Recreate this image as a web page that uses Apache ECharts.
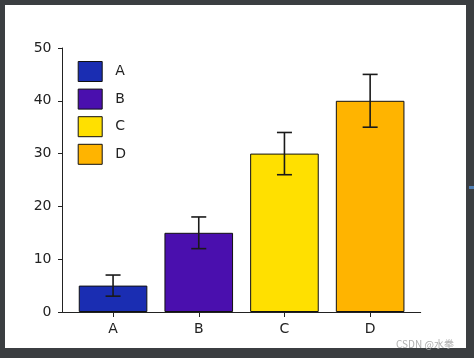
<!DOCTYPE html>
<html>
<head>
<meta charset="utf-8">
<script src="https://cdn.jsdelivr.net/npm/echarts@6/dist/echarts.min.js"></script>
<style>
html,body{margin:0;padding:0;background:#3b3e41;}
#panel{position:absolute;left:5px;top:5px;width:461px;height:343px;background:#ffffff;}
#chart{position:absolute;left:0;top:0;width:474px;height:358px;}
</style>
</head>
<body>
<div id="panel"></div>
<div id="chart"></div>
<script>
const categories = ['A', 'B', 'C', 'D'];
const values = [5, 15, 30, 40];
const errors = [2, 3, 4, 5];
const colors = ['#1a2db2', '#4a0fae', '#ffe000', '#ffb400'];
const yTicks = [0, 10, 20, 30, 40, 50];

const chart = echarts.init(document.getElementById('chart'), null, {renderer: 'canvas'});
const font = 'DejaVu Sans';

const barSeries = categories.map((name, i) => ({
  name: name,
  type: 'bar',
  stack: 'all',
  barWidth: 68.6,
  data: [[i, values[i]]],
  itemStyle: {color: colors[i], borderColor: '#111', borderWidth: 1},
  emphasis: {disabled: true},
  animation: false
}));

const errData = categories.map((c, i) => [i, values[i] - errors[i], values[i] + errors[i]]);

const errSeries = {
  type: 'custom',
  name: 'err',
  z: 10,
  data: errData,
  animation: false,
  renderItem: function (params, api) {
    const x = api.value(0);
    const lo = api.coord([x, api.value(1)]);
    const hi = api.coord([x, api.value(2)]);
    const half = 7.5;
    const st = {stroke: '#1a1a1a', lineWidth: 1.6};
    return {
      type: 'group',
      children: [
        {type: 'line', shape: {x1: lo[0], y1: lo[1], x2: hi[0], y2: hi[1]}, style: st},
        {type: 'line', shape: {x1: lo[0] - half, y1: lo[1], x2: lo[0] + half, y2: lo[1]}, style: st},
        {type: 'line', shape: {x1: hi[0] - half, y1: hi[1], x2: hi[0] + half, y2: hi[1]}, style: st}
      ]
    };
  }
};

chart.setOption({
  backgroundColor: 'transparent',
  animation: false,
  grid: {left: 62.5, right: 53.3, top: 48, bottom: 46, containLabel: false},
  legend: {
    data: categories,
    orient: 'vertical',
    left: 77.7,
    top: 61,
    padding: 0,
    itemWidth: 24,
    itemHeight: 20,
    itemGap: 6.6,
    icon: 'rect',
    itemStyle: {borderColor: '#111', borderWidth: 1},
    textStyle: {fontFamily: font, fontSize: 14, lineHeight: 16, color: '#222', padding: [0, 0, 0, 8]},
    selectedMode: false
  },
  xAxis: {
    type: 'value',
    min: -0.59,
    max: 3.59,
    splitLine: {show: false},
    axisLine: {show: true, onZero: false, lineStyle: {color: '#222', width: 1}},
    axisTick: {show: true, length: 5, customValues: [0, 1, 2, 3], lineStyle: {color: '#222'}},
    axisLabel: {
      customValues: [0, 1, 2, 3],
      formatter: v => categories[Math.round(v)] || '',
      fontFamily: font, fontSize: 14, color: '#222', margin: 10
    }
  },
  yAxis: {
    type: 'value',
    min: 0,
    max: 50,
    interval: 10,
    splitLine: {show: false},
    axisLine: {show: true, onZero: false, lineStyle: {color: '#222', width: 1}},
    axisTick: {show: true, length: 4.5, lineStyle: {color: '#222'}},
    axisLabel: {fontFamily: font, fontSize: 14, color: '#222', margin: 11}
  },
  graphic: [
    {type: 'text', left: 396, top: 339, style: {text: 'CSDN @水拳', fontSize: 10, fill: '#b0b0b0', fontFamily: 'Noto Sans CJK SC'}},
    {type: 'rect', shape: {x: 469, y: 186, width: 5, height: 3}, style: {fill: '#4f7fb5'}}
  ],
  series: barSeries.concat([errSeries])
});
</script>
</body>
</html>
